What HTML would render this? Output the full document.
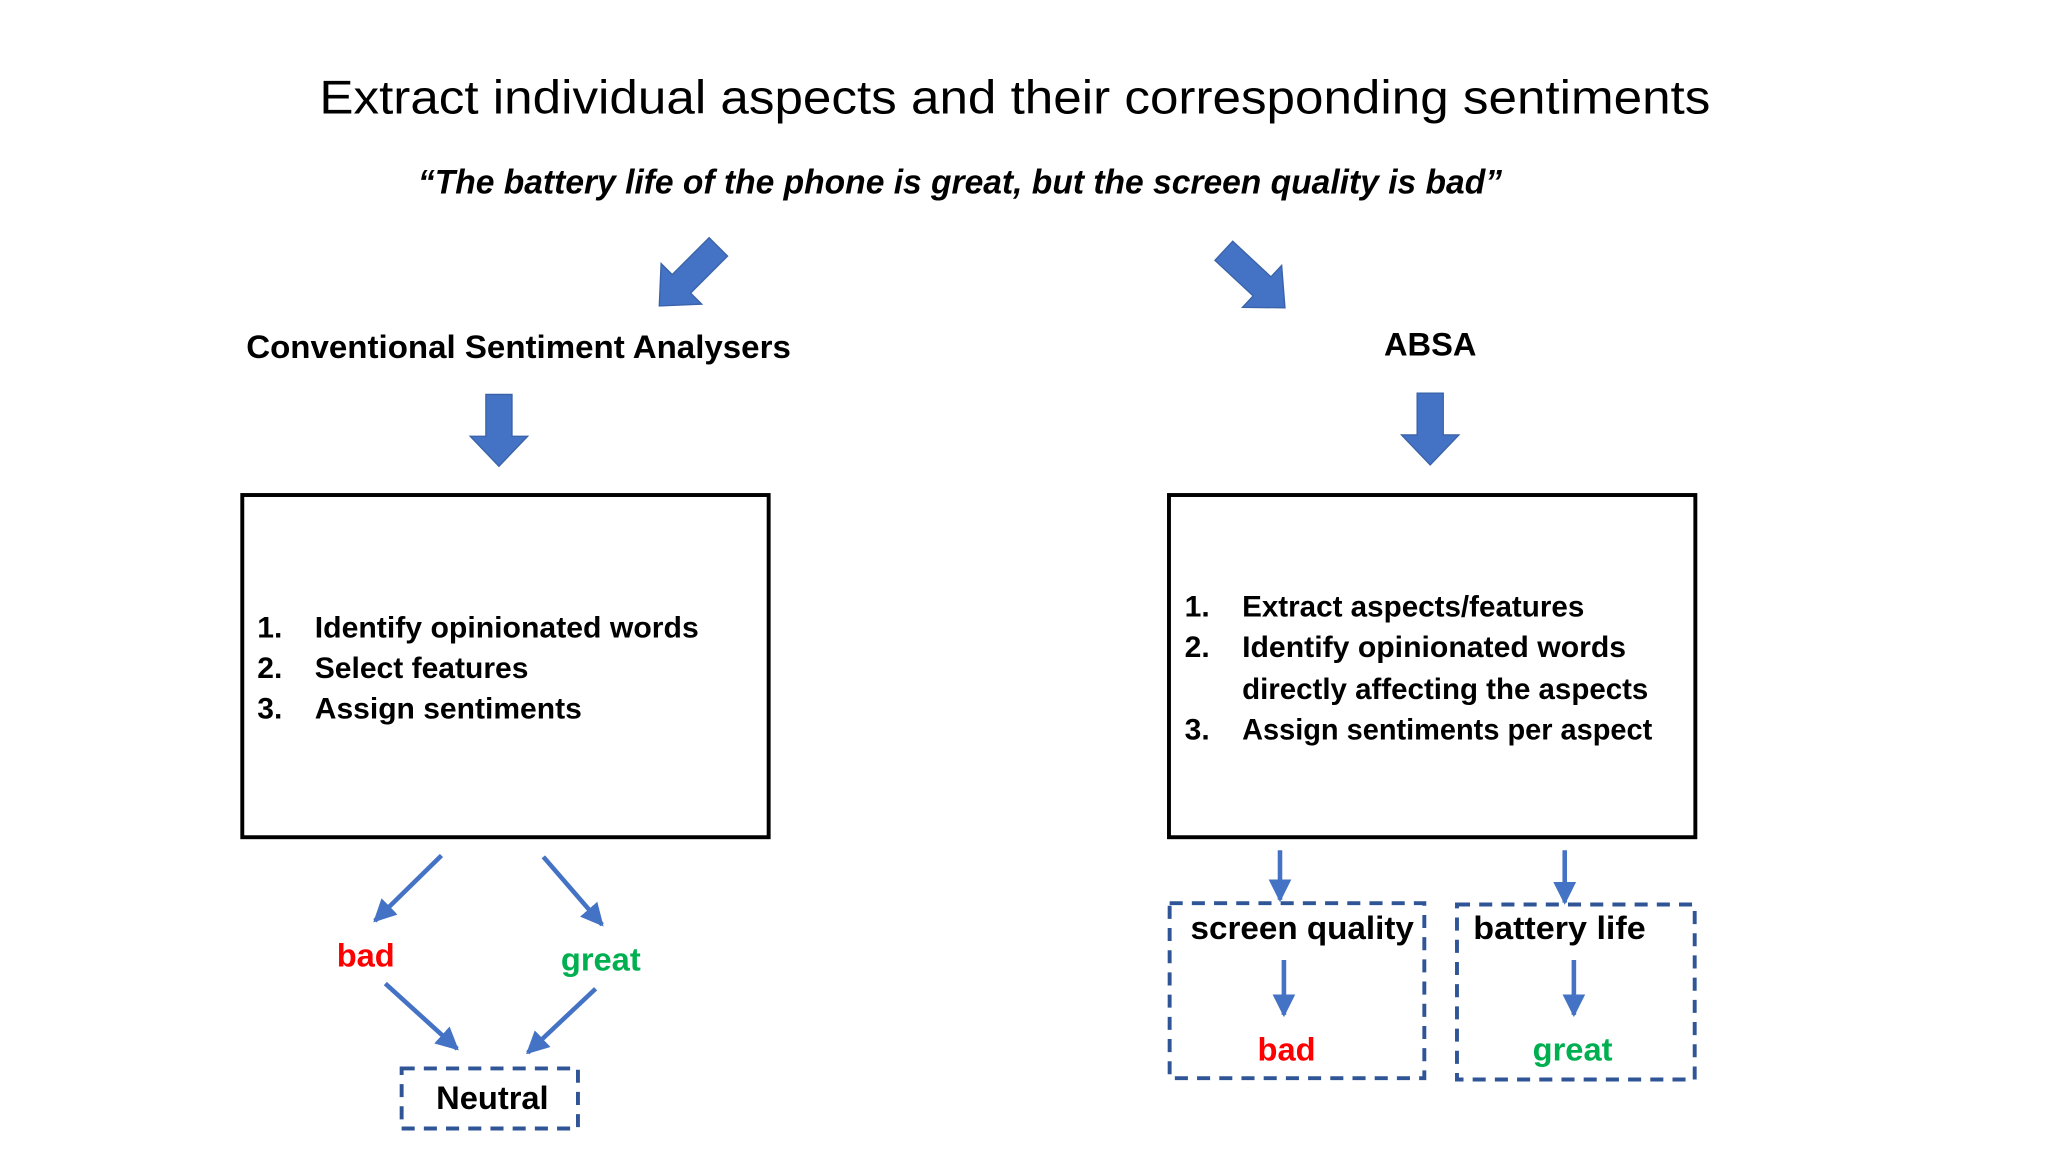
<!DOCTYPE html>
<html><head><meta charset="utf-8"><style>
html,body{margin:0;padding:0;background:#fff;}
svg{display:block;}
text{font-family:"Liberation Sans",sans-serif;}
.b{font-weight:bold;}
</style></head><body>
<svg width="2048" height="1152" viewBox="0 0 1568 882" xmlns="http://www.w3.org/2000/svg">
<defs>
<marker id="ah" viewBox="0 0 10 10" refX="9" refY="5" markerWidth="5" markerHeight="5" orient="auto">
<path d="M0,0 L10,5 L0,10 z" fill="#4472c4"/></marker>
</defs>
<text x="777" y="87" font-size="36" text-anchor="middle" textLength="1065" lengthAdjust="spacingAndGlyphs">Extract individual aspects and their corresponding sentiments</text>
<text x="735" y="148" font-size="26" font-style="italic" class="b" text-anchor="middle" textLength="830" lengthAdjust="spacingAndGlyphs">“The battery life of the phone is great, but the screen quality is bad”</text>
<!-- diagonal block arrows -->
<g fill="#4472c4" stroke="#3a62a8" stroke-width="1">
<polygon points="0,-10 40,-10 40,-22 64,0 40,22 40,10 0,10" transform="translate(550,189) rotate(135)"/>
<polygon points="0,-10 40,-10 40,-22 64,0 40,22 40,10 0,10" transform="translate(937,192) rotate(43)"/>
<polygon points="372,302 392,302 392,334 404,334 382,357 360,334 372,334"/>
<polygon points="1085,301 1105,301 1105,333 1117,333 1095,356 1073,333 1085,333"/>
</g>
<text x="397" y="274" font-size="25" class="b" text-anchor="middle" textLength="417" lengthAdjust="spacingAndGlyphs">Conventional Sentiment Analysers</text>
<text x="1095" y="272" font-size="25" class="b" text-anchor="middle">ABSA</text>
<rect x="185.5" y="379" width="403" height="262" fill="none" stroke="#000" stroke-width="3"/>
<rect x="895" y="379" width="403" height="262" fill="none" stroke="#000" stroke-width="3"/>
<g font-size="23" class="b">
<text x="197" y="488">1.</text><text x="241" y="488" textLength="294" lengthAdjust="spacingAndGlyphs">Identify opinionated words</text>
<text x="197" y="519">2.</text><text x="241" y="519">Select features</text>
<text x="197" y="550">3.</text><text x="241" y="550">Assign sentiments</text>
<text x="907" y="472">1.</text><text x="951" y="472" textLength="262" lengthAdjust="spacingAndGlyphs">Extract aspects/features</text>
<text x="907" y="503">2.</text><text x="951" y="503" textLength="294" lengthAdjust="spacingAndGlyphs">Identify opinionated words</text>
<text x="951" y="535" textLength="311" lengthAdjust="spacingAndGlyphs">directly affecting the aspects</text>
<text x="907" y="566">3.</text><text x="951" y="566" textLength="314" lengthAdjust="spacingAndGlyphs">Assign sentiments per aspect</text>
</g>
<g stroke="#4472c4" stroke-width="3.5" fill="none" marker-end="url(#ah)">
<line x1="338" y1="655" x2="287" y2="705"/>
<line x1="416" y1="656" x2="461" y2="708"/>
<line x1="295" y1="753" x2="350" y2="803"/>
<line x1="456" y1="757" x2="404" y2="806"/>
<line x1="980" y1="651" x2="980" y2="689"/>
<line x1="1198" y1="651" x2="1198" y2="691"/>
<line x1="983" y1="735" x2="983" y2="777"/>
<line x1="1205" y1="735" x2="1205" y2="777"/>
</g>
<g font-size="25" class="b">
<text x="280" y="740" fill="#ff0000" text-anchor="middle">bad</text>
<text x="460" y="743" fill="#00b050" text-anchor="middle">great</text>
<text x="377" y="849" fill="#000" text-anchor="middle">Neutral</text>
<text x="997" y="719" fill="#000" text-anchor="middle" textLength="171" lengthAdjust="spacingAndGlyphs">screen quality</text>
<text x="1194" y="719" fill="#000" text-anchor="middle" textLength="132" lengthAdjust="spacingAndGlyphs">battery life</text>
<text x="985" y="812" fill="#ff0000" text-anchor="middle">bad</text>
<text x="1204" y="812" fill="#00b050" text-anchor="middle">great</text>
</g>
<g fill="none" stroke="#2f5597" stroke-width="3" stroke-dasharray="10,7">
<rect x="307.5" y="818" width="135" height="46"/>
<rect x="895.5" y="691.5" width="195" height="134"/>
<rect x="1115.5" y="692.5" width="182" height="134"/>
</g>
</svg>
</body></html>
